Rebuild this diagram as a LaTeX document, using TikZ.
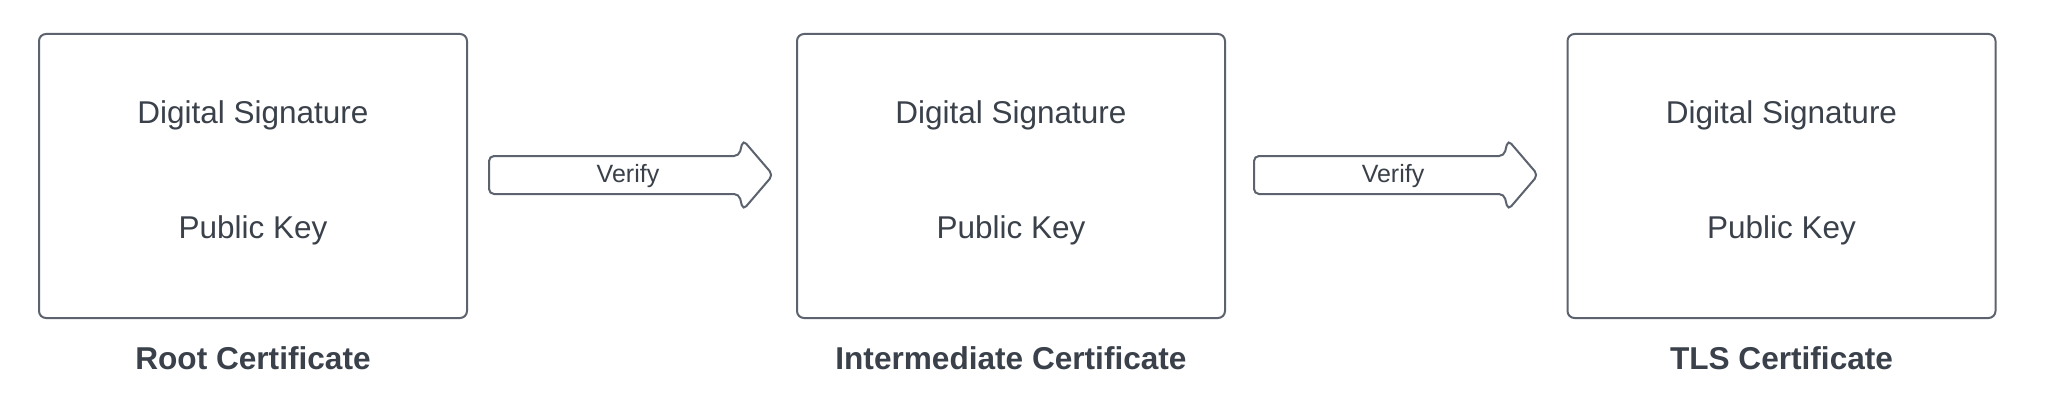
\documentclass[tikz,border=0pt]{standalone}
\usepackage{fontspec}
\setmainfont{Liberation Sans}
\usetikzlibrary{calc}
\definecolor{txt}{HTML}{3A414A}
\definecolor{edge}{HTML}{5C636E}
\tikzset{
  certbox/.style={draw=edge, line width=2pt, rounded corners=7pt, fill=white,
    minimum width=428pt, minimum height=284pt, inner sep=0pt},
  fieldtext/.style={text=txt, font=\fontsize{31.5}{37}\selectfont, anchor=base, inner sep=0pt},
  titletext/.style={text=txt, font=\fontsize{31.6}{37}\selectfont\bfseries, anchor=base, inner sep=0pt},
  verifytext/.style={text=txt, font=\fontsize{25}{30}\selectfont, anchor=base, inner sep=0pt},
  arrowshape/.style={draw=edge, line width=2pt, rounded corners=5pt, fill=white},
}
\begin{document}
\begin{tikzpicture}[x=1pt,y=-1pt]
\useasboundingbox[fill=white] (0,0) rectangle (2048,420);

% boxes
\node[certbox] (b1) at (253,176) {};
\node[certbox] (b2) at (1011,176) {};
\node[certbox] (b3) at (1781.5,176) {};

\foreach \b/\x/\t in {b1/253/Root Certificate, b2/1011/Intermediate Certificate, b3/1781.5/TLS Certificate}{
  \node[fieldtext] (\b sig) at (\x,123) {Digital Signature};
  \node[fieldtext] (\b key) at (\x,238) {Public Key};
  \node[titletext] (\b title) at (\x,369) {\t};
}

% arrows
\foreach \s/\n in {0/a1, 765/a2}{
  \begin{scope}[shift={(\s,0)}]
    \draw[arrowshape] (489,156) -- (739,156) -- (743,140) -- (773,175) -- (743,210) -- (739,194) -- (489,194) -- cycle;
    \node[verifytext] (\n) at (628,182) {Verify};
  \end{scope}
}
\end{tikzpicture}
\end{document}
